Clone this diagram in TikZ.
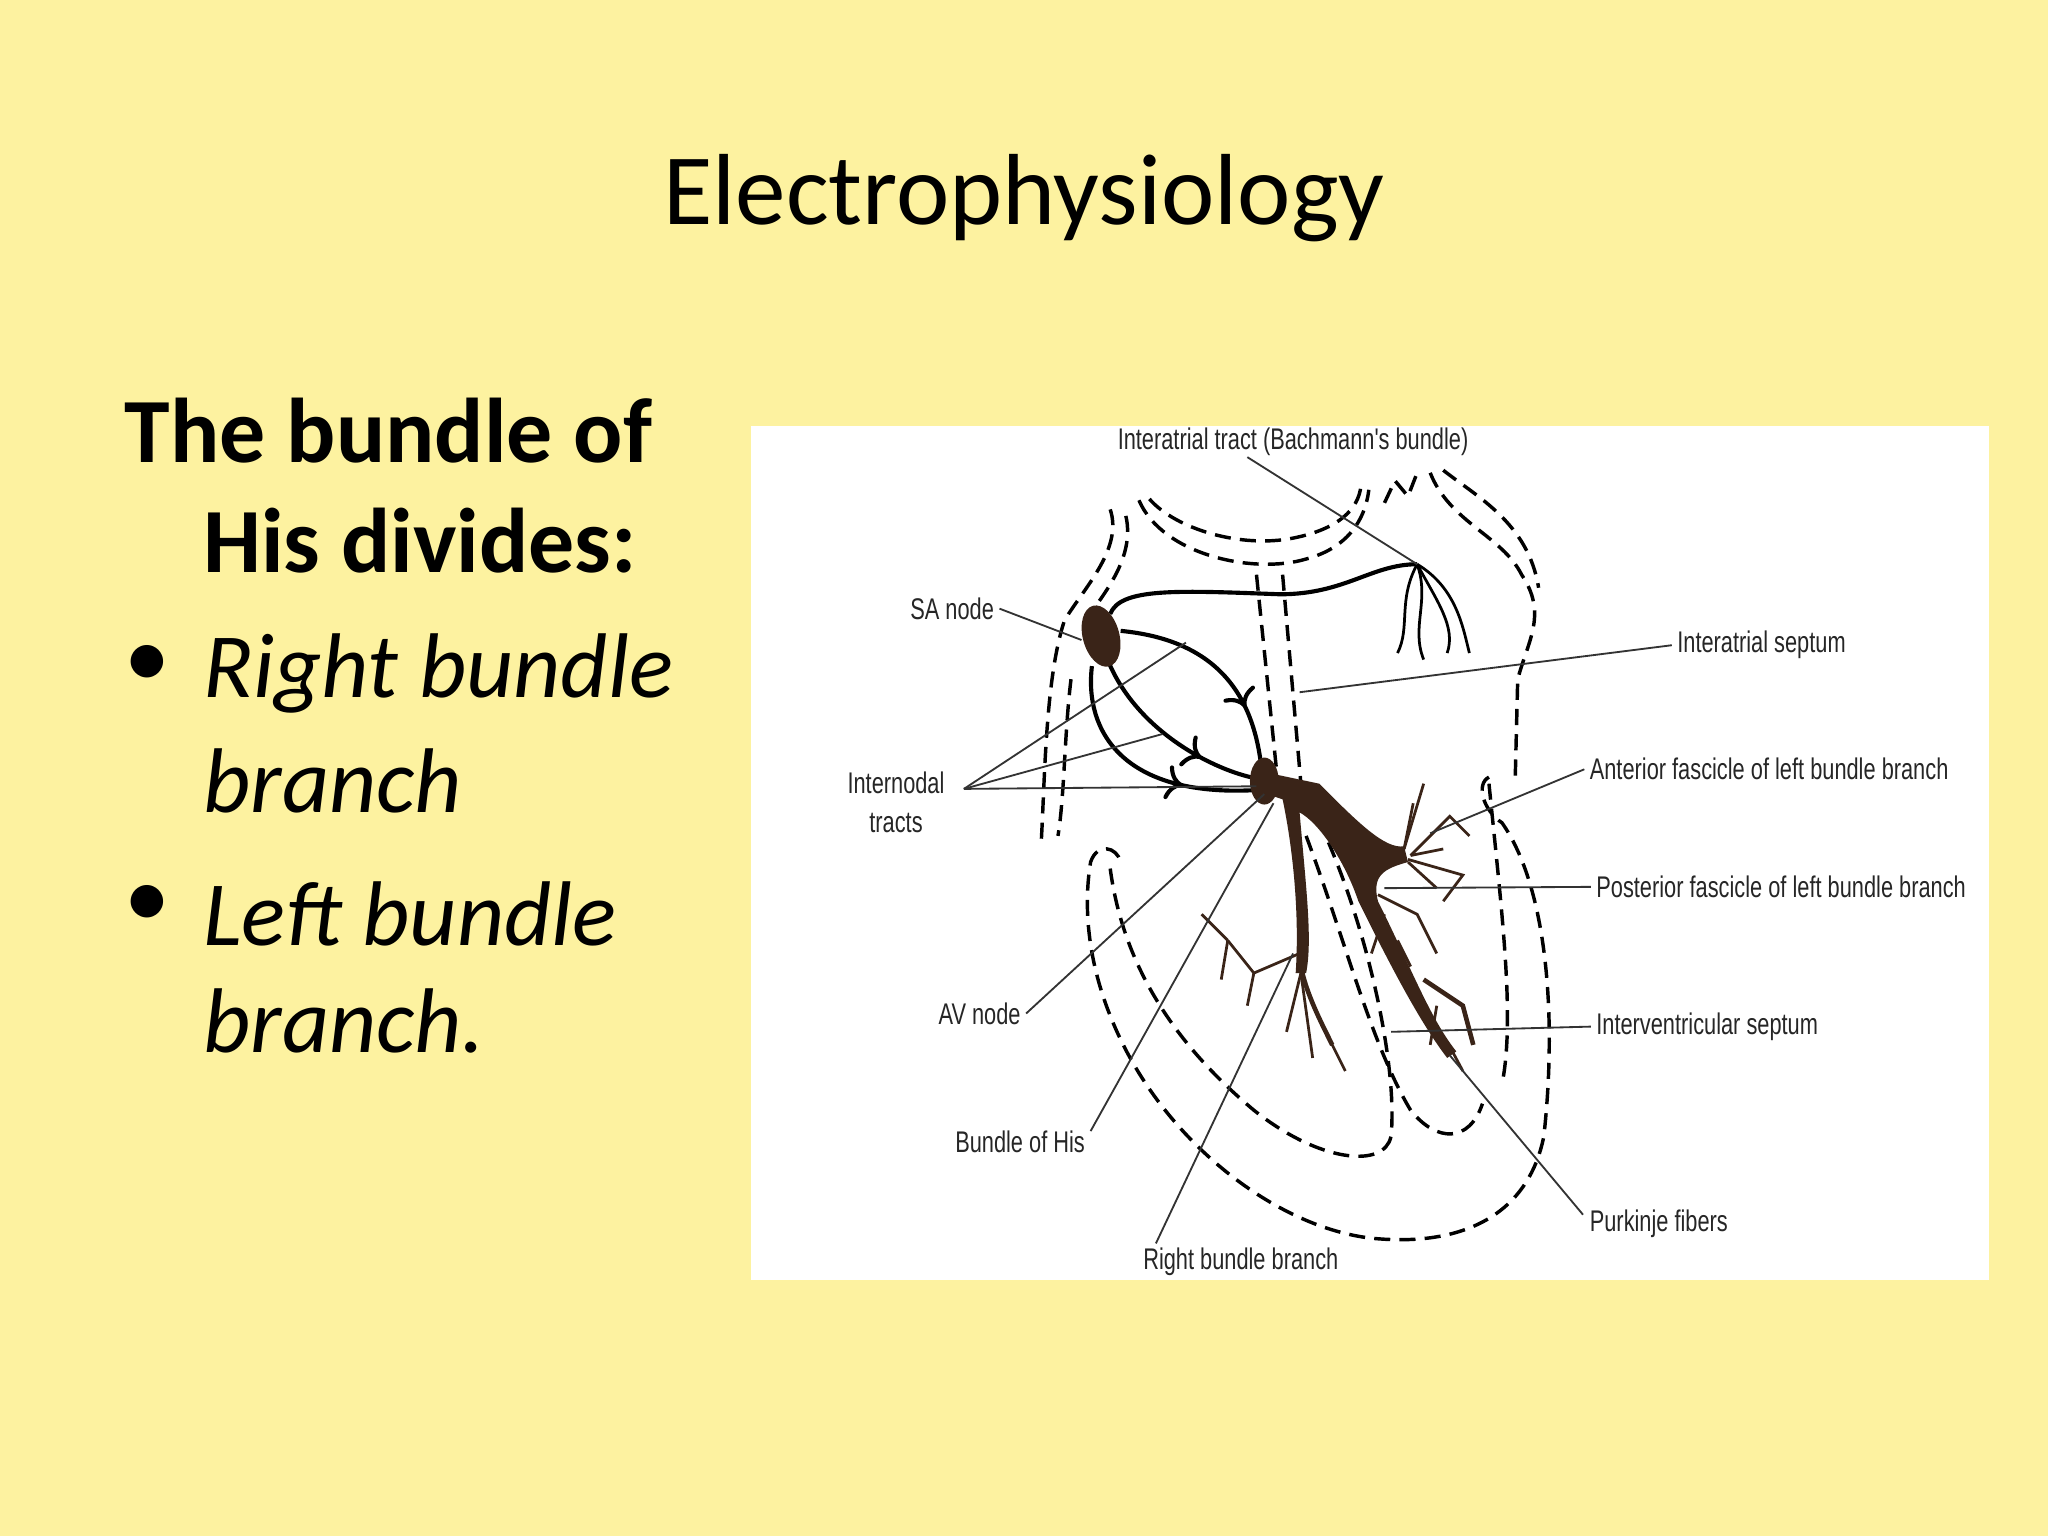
\documentclass[tikz,border=0pt]{standalone}
\usepackage{fontspec}
\setmainfont{Carlito}
\newfontfamily\lab{Liberation Sans}[FakeStretch=0.73]
\usetikzlibrary{decorations.markings,arrows.meta}
\definecolor{bg}{HTML}{FDF2A0}
\definecolor{brn}{HTML}{3A2418}
\tikzset{
 lbl/.style={font=\lab\fontsize{6.5}{8.5}\selectfont,text=black!85,inner sep=1pt},
 big/.style={font=\fontsize{20}{24}\selectfont,anchor=west,inner sep=0pt},
 lead/.style={black!80,line width=0.4pt},
 dsh/.style={dash pattern=on 3.5pt off 2pt,line width=0.75pt},
 tract/.style={line width=0.9pt},
 fib/.style={brn,line width=0.6pt},
 arr/.style={postaction={decorate},decoration={markings,mark=at position 0.7 with {\arrow{>}}}}
}
\begin{document}
\begin{tikzpicture}[x=0.01cm,y=-0.01cm]
\fill[bg] (0,0) rectangle (1568,1176);
\useasboundingbox (0,0) rectangle (1568,1176);
\node (title) at (784,152) {\fontsize{22}{26}\selectfont Electrophysiology};
\node[big] (b1) at (95,330) {\textbf{The bundle of}};
\node[big] (b2) at (155,414) {\textbf{His divides:}};
\node[big] (b3) at (155,516) {\textit{Right bundle}};
\node[big] (b4) at (155,598) {\textit{branch}};
\node[big] (b5) at (155,700) {\textit{Left bundle}};
\node[big] (b6) at (155,782) {\textit{branch.}};
\node[big] (d1) at (95,510) {\textbullet};
\node[big] (d2) at (95,694) {\textbullet};
\fill[white] (575,326) rectangle (1523,980);
% dashed outlines
\draw[dsh] (850,390) .. controls (860,420) and (830,450) .. (815,475) .. controls (800,520) and (800,600) .. (797,648);
\draw[dsh] (862,395) .. controls (870,430) and (840,460) .. (828,480);
\draw[dsh] (820,520) .. controls (815,560) and (815,610) .. (810,640);
\draw[dsh] (872,383) .. controls (890,425) and (960,440) .. (1000,428) .. controls (1030,420) and (1045,400) .. (1048,375);
\draw[dsh] (880,382) .. controls (900,405) and (950,420) .. (990,412) .. controls (1025,405) and (1040,390) .. (1042,372);
\draw[dsh] (1060,385) -- (1068,368) -- (1078,380) -- (1085,362);
\draw[dsh] (962,440) -- (978,596);
\draw[dsh] (982,440) -- (996,600);
\draw[dsh] (1095,362) .. controls (1110,400) and (1150,410) .. (1165,440) .. controls (1185,470) and (1170,490) .. (1162,520) -- (1160,600);
\draw[dsh] (1105,360) .. controls (1130,380) and (1170,400) .. (1178,450);
\draw[dsh] (1140,595) .. controls (1130,600) and (1135,620) .. (1150,630) .. controls (1185,680) and (1192,780) .. (1182,870) .. controls (1170,930) and (1120,955) .. (1050,948) .. controls (980,940) and (900,880) .. (860,800) .. controls (830,740) and (830,690) .. (835,660) .. controls (840,645) and (855,648) .. (858,660);
\draw[dsh] (850,665) .. controls (860,740) and (900,800) .. (960,850) .. controls (1010,890) and (1060,895) .. (1065,870) .. controls (1070,820) and (1050,720) .. (1015,640);
\draw[dsh] (1000,640) .. controls (1030,720) and (1050,800) .. (1080,850) .. controls (1100,875) and (1125,875) .. (1135,845);
\draw[dsh] (1140,600) .. controls (1150,700) and (1160,780) .. (1150,830);
% tracts
\draw[tract] (850,470) .. controls (858,450) and (900,452) .. (980,455) .. controls (1030,455) and (1050,432) .. (1085,432);
\draw[fib,black] (1085,432) .. controls (1070,460) and (1080,480) .. (1070,500);
\draw[fib,black] (1085,432) .. controls (1095,460) and (1080,480) .. (1090,505);
\draw[fib,black] (1085,432) .. controls (1100,460) and (1115,480) .. (1108,500);
\draw[fib,black] (1085,432) .. controls (1115,450) and (1120,480) .. (1125,500);
\draw[tract,arr] (858,483) .. controls (930,490) and (960,530) .. (966,590);
\draw[tract,arr] (848,505) .. controls (870,560) and (930,590) .. (962,596);
\draw[tract,arr] (836,510) .. controls (830,560) and (860,610) .. (960,605);
% His & branches
\fill[brn,rotate around={15:(843,487)}] (843,487) ellipse (14 and 24);
\fill[brn] (968,598) ellipse (11 and 18);
\fill[brn] (972,592) -- (1010,600) .. controls (1040,630) and (1060,650) .. (1075,648) -- (1078,660) .. controls (1060,665) and (1050,670) .. (1055,690) .. controls (1080,740) and (1095,780) .. (1115,805) -- (1108,810) .. controls (1085,780) and (1060,730) .. (1040,690) .. controls (1030,660) and (1010,630) .. (995,622) .. controls (1000,680) and (1005,720) .. (1000,745) -- (992,745) .. controls (995,700) and (990,650) .. (982,612) -- (970,608) -- cycle;
\draw[fib] (1075,650) -- (1090,600);
\draw[fib] (1075,650) -- (1082,615);
\draw[fib] (1080,655) -- (1110,625) -- (1125,640);
\draw[fib] (1080,655) -- (1105,650);
\draw[fib] (1078,658) -- (1120,670) -- (1105,690);
\draw[fib] (1078,660) -- (1100,680);
\draw[fib] (1055,685) -- (1085,700) -- (1100,730);
\draw[fib] (1060,700) -- (1050,730);
\draw[fib] (1070,720) -- (1080,740);
\draw[fib,line width=1pt] (1090,750) -- (1120,770) -- (1128,800);
\draw[fib] (1100,770) -- (1095,800);
\draw[fib] (1112,805) -- (1120,820);
\draw[fib,line width=1pt] (996,740) .. controls (1000,760) and (1010,780) .. (1020,800);
\draw[fib] (996,745) -- (985,790);
\draw[fib] (996,745) -- (1005,810);
\draw[fib] (1015,790) -- (1030,820);
\draw[fib] (995,730) -- (960,745) -- (940,720);
\draw[fib] (960,745) -- (955,770);
\draw[fib] (940,720) -- (920,700);
\draw[fib] (940,720) -- (935,750);
% labels
\node[lbl] (l1) at (990,338) {Interatrial tract (Bachmann's bundle)};
\node[lbl] (l2) at (729,466) {SA node};
\node[lbl,anchor=west] (l3) at (1280,494) {Interatrial septum};
\node[lbl,align=center] (l4) at (686,614) {Internodal\\tracts};
\node[lbl,anchor=west] (l5) at (1213,589) {Anterior fascicle of left bundle branch};
\node[lbl,anchor=west] (l6) at (1218,679) {Posterior fascicle of left bundle branch};
\node[lbl] (l7) at (750,776) {AV node};
\node[lbl,anchor=west] (l8) at (1218,786) {Interventricular septum};
\node[lbl] (l9) at (781,874) {Bundle of His};
\node[lbl,anchor=west] (l10) at (1213,937) {Purkinje fibers};
\node[lbl] (l11) at (950,966) {Right bundle branch};
\coordinate (t1) at (1085,432); \coordinate (t2) at (828,490);
\coordinate (t3) at (995,530); \coordinate (t4a) at (908,492);
\coordinate (t4b) at (890,562); \coordinate (t4c) at (962,602);
\coordinate (t5) at (1095,638); \coordinate (t6) at (1060,680);
\coordinate (t7) at (968,608); \coordinate (t8) at (1065,790);
\coordinate (t9) at (975,615); \coordinate (t10) at (1110,808);
\coordinate (t11) at (990,730);
\coordinate (s1) at (955,350); \coordinate (i4) at (738,604);
\coordinate (s9) at (835,866); \coordinate (s10) at (1212,930);
\coordinate (s11) at (885,952);
\draw[lead] (s1) -- (t1);
\draw[lead] (l2.east) -- (t2);
\draw[lead] (l3.west) -- (t3);
\draw[lead] (i4) -- (t4a); \draw[lead] (i4) -- (t4b); \draw[lead] (i4) -- (t4c);
\draw[lead] (l5.west) -- (t5);
\draw[lead] (l6.west) -- (t6);
\draw[lead] (l7.east) -- (t7);
\draw[lead] (l8.west) -- (t8);
\draw[lead] (s9) -- (t9);
\draw[lead] (s10) -- (t10);
\draw[lead] (s11) -- (t11);
\end{tikzpicture}
\end{document}
